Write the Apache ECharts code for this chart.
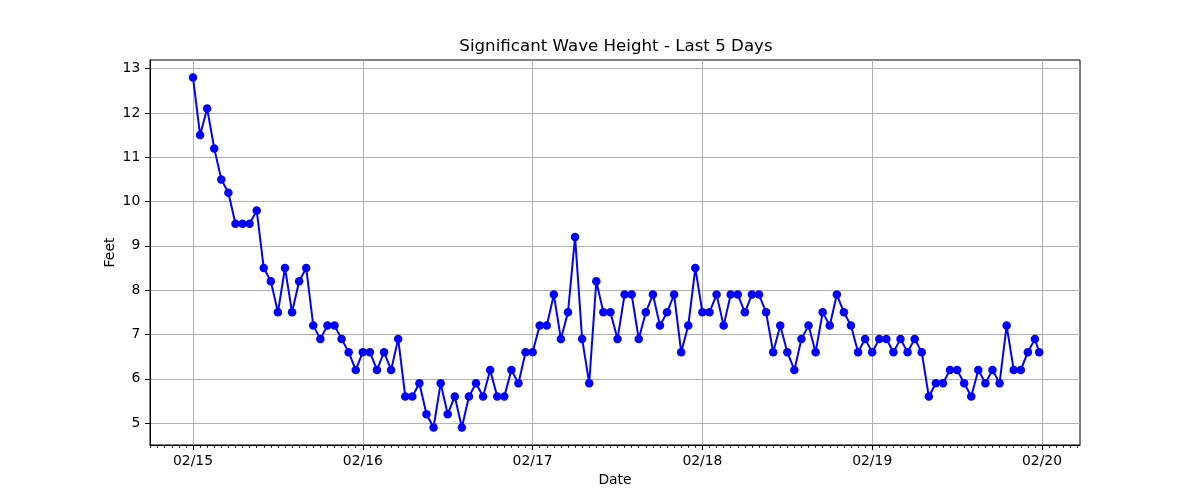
<!DOCTYPE html>
<html>
<head>
<meta charset="utf-8">
<script src="https://cdn.jsdelivr.net/npm/echarts@6/dist/echarts.min.js"></script>
<style>
html,body{margin:0;padding:0;background:#fff;}
#chart{width:1200px;height:500px;}
</style>
</head>
<body>
<div id="chart"></div>
<script>
// Hours since 02/15 00:00
const hours = [
  0,1,2,3,4,5,6,7,8,9,10,11,12,13,14,15,16,17,18,19,20,21,22,23,
  24,25,26,27,28,29,30,31,32,33,34,35,36,37,38,39,40,41,42,43,44,45,46,47,
  48,49,50,51,52,53,54,55,56,57,58,59,60,61,62,63,64,65,66,67,68,69,70,71,
  72,73,74,75,76,77,78,79,80,81,82,83,84,85,86,87,88,89,90,91,92,93,94,95,
  96,97,98,99,100,101,102,103,104,105,106,107,108,109,110,111,112,113,114,115,116,117,118,119,
  119.6
];
// Significant wave height (feet)
const waveHeight = [
  12.8, 11.5, 12.1, 11.2, 10.5, 10.2, 9.5, 9.5, 9.5, 9.8, 8.5, 8.2, 7.5, 8.5, 7.5, 8.2, 8.5, 7.2, 6.9, 7.2, 7.2, 6.9,
  6.6, 6.2, 6.6, 6.6, 6.2, 6.6, 6.2, 6.9, 5.6, 5.6, 5.9, 5.2, 4.9, 5.9, 5.2, 5.6, 4.9, 5.6, 5.9, 5.6, 6.2, 5.6, 5.6, 6.2, 5.9,
  6.6, 6.6, 7.2, 7.2, 7.9, 6.9, 7.5, 9.2, 6.9, 5.9, 8.2, 7.5, 7.5, 6.9, 7.9, 7.9, 6.9, 7.5, 7.9, 7.2, 7.5, 7.9, 6.6, 7.2, 8.5, 7.5,
  7.5, 7.9, 7.2, 7.9, 7.9, 7.5, 7.9, 7.9, 7.5, 6.6, 7.2, 6.6, 6.2, 6.9, 7.2, 6.6, 7.5, 7.2, 7.9, 7.5, 7.2, 6.6, 6.9, 6.6, 6.9,
  6.9, 6.6, 6.9, 6.6, 6.9, 6.6, 5.6, 5.9, 5.9, 6.2, 6.2, 5.9, 5.6, 6.2, 5.9, 6.2, 5.9, 7.2, 6.2, 6.2, 6.6, 6.9, 6.6
];
// Day tick positions (hours) and labels
const dayTicks = [0, 24, 48, 72, 96, 120];
const dayLabels = ['02/15', '02/16', '02/17', '02/18', '02/19', '02/20'];
// Y tick values
const yTicks = [5, 6, 7, 8, 9, 10, 11, 12, 13];

const hourTicks = [];
for (let h = -6; h <= 125; h++) hourTicks.push(h);

const FONT = 'DejaVu Sans';
const xMin = -6.08, xMax = 125.37;
const yMin = 4.505, yMax = 13.195;

const chart = echarts.init(document.getElementById('chart'), null, {renderer: 'canvas'});
chart.setOption({
  animation: false,
  backgroundColor: '#ffffff',
  title: {
    text: 'Significant Wave Height - Last 5 Days',
    left: 611, top: 33, textAlign: 'center',
    textStyle: {fontFamily: FONT, fontSize: 16.67, fontWeight: 'normal', color: '#000'}
  },
  grid: {
    left: 150, right: 120, top: 60, bottom: 55,
    show: true, borderColor: '#000', borderWidth: 1,
    containLabel: false, outerBoundsMode: 'none'
  },
  xAxis: [{
    type: 'value', min: xMin, max: xMax,
    name: 'Date', nameLocation: 'middle', nameGap: 28, nameMoveOverlap: false,
    nameTextStyle: {fontFamily: FONT, fontSize: 13.9, color: '#000'},
    axisLine: {show: true, onZero: false, lineStyle: {color: '#000', width: 1}},
    axisTick: {show: true, customValues: dayTicks, length: 5, lineStyle: {color: '#000', width: 1}},
    axisLabel: {
      customValues: dayTicks, margin: 9.5,
      fontFamily: FONT, fontSize: 13.9, color: '#000',
      formatter: v => dayLabels[dayTicks.indexOf(Math.round(v))] || ''
    },
    splitLine: {show: true, lineStyle: {color: '#b0b0b0', width: 1}}
  }, {
    type: 'value', min: xMin, max: xMax, position: 'bottom', gridIndex: 0,
    axisLine: {show: false, onZero: false},
    axisTick: {show: true, customValues: hourTicks, length: 3, lineStyle: {color: '#000', width: 0.8}},
    axisLabel: {show: false},
    splitLine: {show: false}
  }],
  yAxis: {
    type: 'value', min: yMin, max: yMax,
    name: 'Feet', nameLocation: 'middle', nameGap: 33, nameRotate: 90, nameMoveOverlap: false,
    nameTextStyle: {fontFamily: FONT, fontSize: 13.9, color: '#000'},
    axisLine: {show: true, onZero: false, lineStyle: {color: '#000', width: 1}},
    axisTick: {show: true, customValues: yTicks, length: 5, lineStyle: {color: '#000', width: 1}},
    axisLabel: {
      customValues: yTicks, margin: 9.7,
      fontFamily: FONT, fontSize: 13.9, color: '#000',
      formatter: v => String(Math.round(v))
    },
    splitLine: {show: true, lineStyle: {color: '#b0b0b0', width: 1}}
  },
  series: [{
    type: 'line',
    xAxisIndex: 0,
    data: hours.map((h, i) => [h, waveHeight[i]]),
    symbol: 'circle', symbolSize: 8.5,
    showSymbol: true, showAllSymbol: true,
    lineStyle: {color: '#0000ff', width: 2},
    itemStyle: {color: '#0000ff'},
    clip: false
  }]
});
</script>
</body>
</html>
